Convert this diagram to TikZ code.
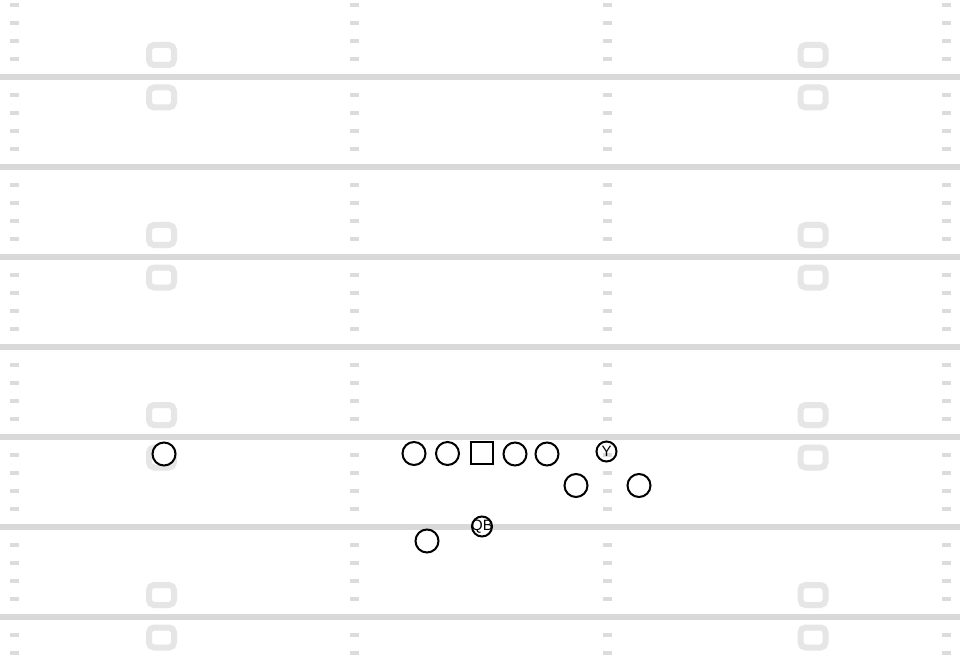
\documentclass[tikz,border=0pt]{standalone}
\usepackage{fontspec}
\setmainfont{Liberation Sans}
\definecolor{yardc}{HTML}{D9D9D9}
\definecolor{hashc}{HTML}{DCDCDC}
\definecolor{numc}{HTML}{E6E6E6}
\begin{document}
\begin{tikzpicture}[x=1pt,y=-1pt,
  yardline/.style={draw=yardc,line width=5.5pt},
  hashmark/.style={fill=hashc},
  numbox/.style={draw=numc,line width=6pt,rounded corners=5pt},
  player/.style={circle,draw=black,line width=2pt,fill=white,minimum size=23pt,inner sep=0pt},
  smallplayer/.style={circle,draw=black,line width=2pt,minimum size=20pt,inner sep=0pt},
  center/.style={rectangle,draw=black,line width=2pt,fill=white,minimum size=22pt,inner sep=0pt},
  ptext/.style={inner sep=0pt,font=\fontsize{15}{15}\selectfont}]
\useasboundingbox (0,0) rectangle (960,660);
\fill[white] (0,0) rectangle (960,660);
% yard lines
\foreach \L in {77,167,257,347,437,527,617}
  \draw[yardline] (0,\L) -- (960,\L);
% hash marks
\foreach \L in {-13,77,167,257,347,437,527,617}
  \foreach \d in {18,36,54,72}
    \foreach \x in {10,350,603,942}
      \fill[hashmark] (\x,\L+\d-2) rectangle (\x+9,\L+\d+2);
% yard numbers
\foreach \L in {77,257,437,617}
  \foreach \x in {161.5,813}{
    \draw[numbox] (\x-12.5,\L-32) rectangle (\x+12.5,\L-12);
    \draw[numbox] (\x-12.5,\L+10.5) rectangle (\x+12.5,\L+30.5);
  }
% players
\node[player] (wr) at (164,454) {};
\node[player] (lt) at (414,453.5) {};
\node[player] (lg) at (447.5,453.5) {};
\node[center] (c) at (482,452.5) {};
\node[player] (rg) at (515,454) {};
\node[player] (rt) at (547,454) {};
\node[smallplayer] (y) at (606.5,451.5) {};
\node[ptext] (ytext) at (y) {Y};
\node[player] (b1) at (576,485.5) {};
\node[player] (b2) at (639,485.5) {};
\node[smallplayer,fill=white] (qb) at (482,526.5) {};
\node[ptext] (qbtext) at (qb) {QB};
\node[player] (rb) at (427,541) {};
\end{tikzpicture}
\end{document}
